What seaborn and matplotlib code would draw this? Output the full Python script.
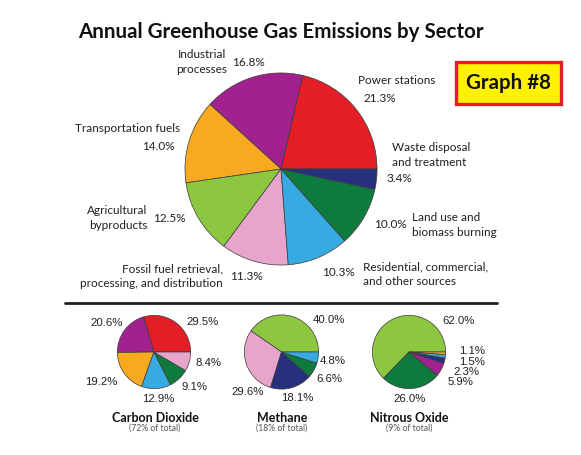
import matplotlib
matplotlib.use("Agg")
import matplotlib.pyplot as plt
import seaborn as sns
from matplotlib.patches import Rectangle
from matplotlib.lines import Line2D

# --- data
sectors = ["Power stations", "Industrial\nprocesses", "Transportation fuels",
           "Agricultural\nbyproducts",
           "Fossil fuel retrieval,\nprocessing, and distribution",
           "Residential, commercial,\nand other sources",
           "Land use and\nbiomass burning", "Waste disposal\nand treatment"]
sector_share = [21.3, 16.8, 14.0, 12.5, 11.3, 10.3, 10.0, 3.4]

co2_sectors = ["Power stations", "Industrial\nprocesses", "Transportation fuels",
               "Residential, commercial,\nand other sources",
               "Land use and\nbiomass burning",
               "Fossil fuel retrieval,\nprocessing, and distribution"]
co2_share = [29.5, 20.6, 19.2, 12.9, 9.1, 8.4]

ch4_sectors = ["Agricultural\nbyproducts",
               "Fossil fuel retrieval,\nprocessing, and distribution",
               "Waste disposal\nand treatment", "Land use and\nbiomass burning",
               "Residential, commercial,\nand other sources"]
ch4_share = [40.0, 29.6, 18.1, 6.6, 4.8]

n2o_sectors = ["Agricultural\nbyproducts", "Land use and\nbiomass burning",
               "Industrial\nprocesses", "Waste disposal\nand treatment",
               "Residential, commercial,\nand other sources", "Transportation fuels"]
n2o_share = [62.0, 26.0, 5.9, 2.3, 1.5, 1.1]

gases = ["Carbon Dioxide", "Methane", "Nitrous Oxide"]
gas_total = ["(72% of total)", "(18% of total)", "(9% of total)"]

palette = dict(zip(sectors, ["#E41E26", "#A1218E", "#F8A91F", "#8DC63F",
                             "#E8A5CB", "#36AAE1", "#0E7A3D", "#26307F"]))

sns.set_theme(style="white")
plt.rcParams["font.family"] = ["Lato", "DejaVu Sans"]

W, H = 581, 455
fig = plt.figure(figsize=(W / 100, H / 100), dpi=100)
fig.patch.set_facecolor("white")


def fx(x):
    return x / W


def fy(y):
    return 1 - y / H


def pie_axes(cx, cy, r):
    return fig.add_axes([fx(cx - r), fy(cy + r), 2 * r / W, 2 * r / H])


def draw_pie(ax, labels, values):
    ax.pie(values, colors=[palette[l] for l in labels], startangle=0,
           counterclock=True,
           wedgeprops=dict(edgecolor="#3a3a3a", linewidth=0.5))
    ax.set_xlim(-1.01, 1.01)
    ax.set_ylim(-1.01, 1.01)
    ax.set_aspect("equal")
    ax.axis("off")


def txt(x, y, s, size=8.5, ha="left", weight="normal", family=None,
        color="#231f20", **kw):
    fig.text(fx(x), fy(y), s, ha=ha, va="center", fontsize=size,
             fontweight=weight, color=color,
             family=family or ["Lato", "DejaVu Sans"], **kw)


# --- main pie
draw_pie(pie_axes(281, 169, 97), sectors, sector_share)

# --- gas pies
draw_pie(pie_axes(154, 352, 37), co2_sectors, co2_share)
draw_pie(pie_axes(281.5, 352, 37.5), ch4_sectors, ch4_share)
draw_pie(pie_axes(409, 352, 37), n2o_sectors, n2o_share)

# --- title and tag
txt(281, 32, "Annual Greenhouse Gas Emissions by Sector", size=14.8,
    ha="center", weight="bold", color="#111111")
fig.add_artist(Rectangle((fx(456), fy(104)), 105 / W, 42 / H,
                         transform=fig.transFigure, facecolor="#FFF200",
                         edgecolor="#E41E26", linewidth=2.4))
txt(508, 83, "Graph #8", size=14.8, ha="center", weight="bold",
    color="#111111")

# --- main pie labels
ls = 1.4
txt(202, 62, sectors[1], ha="center", linespacing=ls)
txt(232, 62, f"{sector_share[1]:.1f}%")
txt(358, 81, sectors[0])
txt(363, 99, f"{sector_share[0]:.1f}%")
txt(180, 128, sectors[2], ha="right")
txt(175, 147, f"{sector_share[2]:.1f}%", ha="right")
txt(392, 155, sectors[7], linespacing=ls)
txt(386, 179, f"{sector_share[7]:.1f}%")
txt(147, 218, sectors[3], ha="right", linespacing=ls)
txt(153, 218, f"{sector_share[3]:.1f}%")
txt(407, 225, f"{sector_share[6]:.1f}%", ha="right")
txt(412, 225, sectors[6], linespacing=ls)
txt(223, 276, sectors[4], ha="right", multialignment="right", linespacing=ls)
txt(230, 277, f"{sector_share[4]:.1f}%")
txt(355, 272, f"{sector_share[5]:.1f}%", ha="right")
txt(363, 274, sectors[5], linespacing=ls)

# --- separator
fig.add_artist(Line2D([fx(65), fx(497)], [fy(303), fy(303)],
                      transform=fig.transFigure, color="#231f20", lw=2))

# --- gas pie labels
arial = ["Liberation Sans", "DejaVu Sans"]
sm = 8.2
co2_pos = [(186, 322, "left"), (123, 323, "right"), (117, 382, "right"),
           (158, 399, "center"), (181, 387, "left"), (195, 363, "left")]
for v, (x, y, ha) in zip(co2_share, co2_pos):
    txt(x, y, f"{v:.1f}%", size=sm, ha=ha, family=arial)

ch4_pos = [(313, 320, "left"), (264, 392, "right"), (297, 398, "center"),
           (316, 379, "left"), (320, 361, "left")]
for v, (x, y, ha) in zip(ch4_share, ch4_pos):
    txt(x, y, f"{v:.1f}%", size=sm, ha=ha, family=arial)

n2o_pos = [(442, 321, "left"), (410, 399, "center"), (473, 382, "right"),
           (479, 372, "right"), (485, 362, "right"), (485, 351, "right")]
for v, (x, y, ha) in zip(n2o_share, n2o_pos):
    txt(x, y, f"{v:.1f}%", size=sm, ha=ha, family=arial)

for cx, name, tot in zip([155, 282, 409.5], gases, gas_total):
    txt(cx, 418, name, size=9, ha="center", weight="bold", color="#111111")
    txt(cx, 428, tot, size=6.2, ha="center", color="#555555")

fig.savefig("out.png", dpi=100)
